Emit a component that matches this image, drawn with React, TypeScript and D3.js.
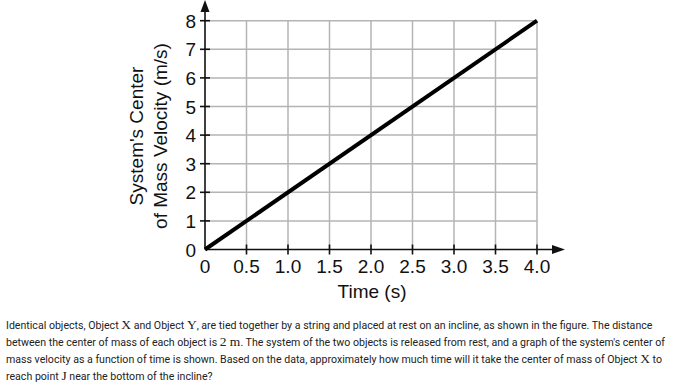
import { useEffect, useRef } from 'react';
import * as d3 from 'd3';

// chart data
const timeTicks: number[] = [0, 0.5, 1.0, 1.5, 2.0, 2.5, 3.0, 3.5, 4.0];
const timeTickLabels: string[] = ['0', '0.5', '1.0', '1.5', '2.0', '2.5', '3.0', '3.5', '4.0'];
const velocityTicks: number[] = [0, 1, 2, 3, 4, 5, 6, 7, 8];
const lineTime: number[] = [0, 4];
const lineVelocity: number[] = [0, 8];

const yLabelLines: string[] = ["System's Center", 'of Mass Velocity (m/s)'];
const xLabel = 'Time (s)';

// question text, split as in the picture; [text, isMath]
const questionLines: [string, boolean][][] = [
  [
    ['Identical objects, Object ', false],
    ['X', true],
    [' and Object ', false],
    ['Y', true],
    [', are tied together by a string and placed at rest on an incline, as shown in the figure. The distance', false],
  ],
  [
    ['between the center of mass of each object is ', false],
    ['2 m', true],
    [". The system of the two objects is released from rest, and a graph of the system's center of", false],
  ],
  [
    ['mass velocity as a function of time is shown. Based on the data, approximately how much time will it take the center of mass of Object ', false],
    ['X', true],
    [' to', false],
  ],
  [
    ['reach point ', false],
    ['J', true],
    [' near the bottom of the incline?', false],
  ],
];

const App: React.FC = () => {
  const svgRef = useRef<SVGSVGElement | null>(null);

  useEffect(() => {
    if (!svgRef.current) return;
    const svg = d3.select(svgRef.current);
    svg.selectAll('*').remove();

    const x = d3.scaleLinear().domain([0, 4]).range([205, 537]);
    const y = d3.scaleLinear().domain([0, 8]).range([249.5, 20.7]);
    const font = '"Liberation Sans", Arial, sans-serif';

    // grid
    const grid = svg.append('g').attr('stroke', '#b4b4b4').attr('stroke-width', 1.5);
    grid
      .selectAll('line.v')
      .data(timeTicks.slice(1))
      .enter()
      .append('line')
      .attr('x1', (d) => x(d))
      .attr('x2', (d) => x(d))
      .attr('y1', y(0))
      .attr('y2', y(8));
    grid
      .selectAll('line.h')
      .data(velocityTicks.slice(1))
      .enter()
      .append('line')
      .attr('x1', x(0))
      .attr('x2', x(4))
      .attr('y1', (d) => y(d))
      .attr('y2', (d) => y(d));

    // axes with arrows
    const axes = svg.append('g').attr('stroke', '#111').attr('stroke-width', 1.6);
    axes.append('line').attr('x1', x(0)).attr('x2', 556).attr('y1', y(0)).attr('y2', y(0));
    axes.append('line').attr('x1', x(0)).attr('x2', x(0)).attr('y1', y(0)).attr('y2', 7);
    svg
      .append('path')
      .attr('d', `M565,${y(0)} L552,${y(0) - 4.5} L552,${y(0) + 4.5} Z`)
      .attr('fill', '#111');
    svg
      .append('path')
      .attr('d', `M${x(0)},0 L${x(0) - 4.5},12 L${x(0) + 4.5},12 Z`)
      .attr('fill', '#111');

    // ticks
    axes
      .selectAll('line.xt')
      .data(timeTicks.slice(1))
      .enter()
      .append('line')
      .attr('x1', (d) => x(d))
      .attr('x2', (d) => x(d))
      .attr('y1', y(0) - 5)
      .attr('y2', y(0) + 5);
    axes
      .selectAll('line.yt')
      .data(velocityTicks.slice(1))
      .enter()
      .append('line')
      .attr('x1', x(0) - 5)
      .attr('x2', x(0) + 5)
      .attr('y1', (d) => y(d))
      .attr('y2', (d) => y(d));

    // tick labels
    svg
      .append('g')
      .selectAll('text')
      .data(timeTicks)
      .enter()
      .append('text')
      .attr('x', (d) => x(d))
      .attr('y', 273)
      .attr('text-anchor', 'middle')
      .attr('font-family', font)
      .attr('font-size', 19)
      .attr('fill', '#111')
      .text((_, i) => timeTickLabels[i]);
    svg
      .append('g')
      .selectAll('text')
      .data(velocityTicks)
      .enter()
      .append('text')
      .attr('x', 196)
      .attr('y', (d) => y(d) + 7)
      .attr('text-anchor', 'end')
      .attr('font-family', font)
      .attr('font-size', 19)
      .attr('fill', '#111')
      .text((d) => String(d));

    // axis titles
    svg
      .append('text')
      .attr('x', 372)
      .attr('y', 298)
      .attr('text-anchor', 'middle')
      .attr('font-family', font)
      .attr('font-size', 19)
      .attr('fill', '#111')
      .text(xLabel);
    yLabelLines.forEach((line, i) => {
      svg
        .append('text')
        .attr('transform', `translate(${143 + i * 24},136) rotate(-90)`)
        .attr('text-anchor', 'middle')
        .attr('font-family', font)
        .attr('font-size', 19)
        .attr('fill', '#111')
        .text(line);
    });

    // data line
    const lineData = lineTime.map((t, i) => [t, lineVelocity[i]] as [number, number]);
    svg
      .append('path')
      .datum(lineData)
      .attr('fill', 'none')
      .attr('stroke', '#000')
      .attr('stroke-width', 4)
      .attr('d', d3.line<[number, number]>().x((d) => x(d[0])).y((d) => y(d[1])));

    // question text
    const q = svg
      .append('g')
      .attr('font-family', 'Roboto, sans-serif')
      .attr('font-size', 10.6)
      .attr('fill', '#222');
    questionLines.forEach((parts, i) => {
      const t = q.append('text').attr('x', 6).attr('y', 329 + i * 17);
      parts.forEach(([s, math]) => {
        const span = t.append('tspan').text(s);
        if (math) span.attr('font-family', '"Liberation Serif", serif').attr('font-size', 13.5);
      });
    });
  }, []);

  return (
    <div style={{ position: 'absolute', left: 0, top: 0 }}>
      <svg ref={svgRef} width={700} height={385} style={{ display: 'block', background: '#fff' }}></svg>
    </div>
  );
};

export default App;
